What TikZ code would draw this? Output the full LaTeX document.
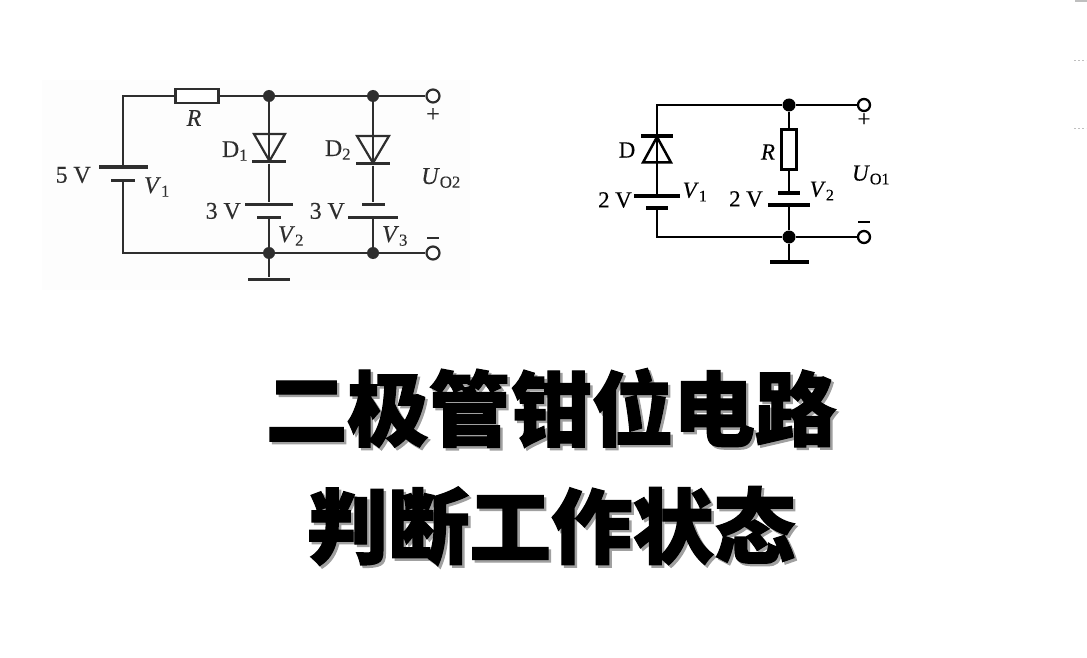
\documentclass[tikz,border=0pt]{standalone}
\usepackage{fontspec}
\setmainfont[FakeBold=0.2]{Liberation Serif}
\newfontfamily\cjk[BoldFeatures={FakeBold=1.6}]{Noto Sans CJK SC}
\definecolor{scanwire}{HTML}{2E2E2E}
\definecolor{scanfill}{HTML}{FDFDFD}
\definecolor{shadowgray}{HTML}{A0A0A0}
\newcommand{\volt}[1]{\textit{#1}}
\newcommand{\vsp}{\hspace{.24em}}
\begin{document}
\begin{tikzpicture}[x=1pt, y=-1pt,
    wire/.style={draw=scanwire, line width=2.2pt},
    wirer/.style={draw=black, line width=2.5pt},
    plate/.style={fill=scanwire, inner sep=0pt, minimum height=3pt},
    plater/.style={fill=black, inner sep=0pt, minimum height=3.2pt},
    dot/.style={circle, fill=scanwire, inner sep=0pt, minimum size=12pt},
    dotr/.style={circle, fill=black, inner sep=0pt, minimum size=13pt},
    terminal/.style={circle, draw=scanwire, fill=white, line width=2.2pt, inner sep=0pt, minimum size=13pt},
    terminalr/.style={circle, draw=black, fill=white, line width=2.3pt, inner sep=0pt, minimum size=12pt},
    lab/.style={inner sep=0pt, text=scanwire, font=\fontsize{24}{24}\selectfont},
    labr/.style={inner sep=0pt, text=black, font=\fontsize{23}{23}\selectfont},
    titletext/.style={inner sep=0pt, font=\cjk\bfseries\fontsize{81.5}{81.5}\selectfont}]
  \useasboundingbox (0,0) rectangle (1087,658);
  \fill[scanfill] (42,80) rectangle (470,290);

  % marks at the top right
  \draw[gray!50, line width=1.5pt] (1075,1) -- (1087,1);
  \draw[gray!50, line width=1pt, dash pattern=on 2pt off 2pt] (1074,61) -- (1086,61);
  \draw[gray!50, line width=1pt, dash pattern=on 2pt off 2pt] (1074,129) -- (1086,129);

  % left circuit
  \coordinate (lt) at (123,96);
  \coordinate (lb) at (123,253);
  \node[draw=scanwire, fill=white, line width=2.2pt, minimum width=43pt, minimum height=14pt, inner sep=0pt] (R2) at (197,96) {};
  \node[dot] (j1) at (269,96) {};
  \node[dot] (j2) at (373,96) {};
  \node[terminal] (tp2) at (433,96) {};
  \node[dot] (j3) at (269,253) {};
  \node[dot] (j4) at (373,253) {};
  \node[terminal] (tm2) at (433,253) {};
  \node[plate, minimum width=49pt] (v1a) at (123,167) {};
  \node[plate, minimum width=24pt] (v1b) at (123,180) {};
  \node[plate, minimum width=34pt] (d1k) at (269,162) {};
  \node[plate, minimum width=34pt] (d2k) at (373,164) {};
  \node[plate, minimum width=48pt] (v2a) at (269,204) {};
  \node[plate, minimum width=24pt] (v2b) at (269,217) {};
  \node[plate, minimum width=23pt] (v3a) at (373,204) {};
  \node[plate, minimum width=50pt] (v3b) at (373,217) {};
  \node[plate, minimum width=42pt] (gnd2) at (269,279) {};

  \draw[wire] (v1a) -- (lt) -- (R2);
  \draw[wire] (R2) -- (j1);
  \draw[wire] (j1) -- (j2);
  \draw[wire] (j2) -- (tp2);
  \draw[wire] (v1b) -- (lb) -- (j3);
  \draw[wire] (j3) -- (j4);
  \draw[wire] (j4) -- (tm2);
  \draw[wire] (j1) -- (d1k);
  \draw[wire] (d1k) -- (v2a);
  \draw[wire] (v2b) -- (j3);
  \draw[wire] (j3) -- (gnd2);
  \draw[wire] (j2) -- (d2k);
  \draw[wire] (d2k) -- (v3a);
  \draw[wire] (v3b) -- (j4);
  \draw[wire, line join=miter] (254,134) -- (285,134) -- (269.5,161) -- cycle;
  \draw[wire, line join=miter] (357,136) -- (389,136) -- (373,163) -- cycle;

  \node[lab] (r2lab) at (194,118) {\volt{R}};
  \node[lab, anchor=east] (v5) at (91,175) {5\vsp V};
  \node[lab] (v1lab) at (157,187) {\volt{V}\textsubscript{1}};
  \node[lab] (d1lab) at (235,151) {D\textsubscript{1}};
  \node[lab] (d2lab) at (338,150) {D\textsubscript{2}};
  \node[lab, anchor=east] (v3l) at (241,211) {3\vsp V};
  \node[lab, anchor=east] (v3r) at (345,211) {3\vsp V};
  \node[lab] (v2lab) at (291,236) {\volt{V}\textsubscript{2}};
  \node[lab] (v3lab) at (395,236) {\volt{V}\textsubscript{3}};
  \node[lab] (plus2) at (433,115) {+};
  \node[plate, minimum width=12pt, minimum height=1.6pt] (minus2) at (433,238) {};
  \node[lab] (uo2) at (441,178) {\volt{U}\textsubscript{O2}};

  % right circuit
  \coordinate (rt) at (657,105);
  \coordinate (rb) at (657,237);
  \node[dotr] (j5) at (789,105) {};
  \node[dotr] (j6) at (789,237) {};
  \node[terminalr] (tp1) at (864,105) {};
  \node[terminalr] (tm1) at (864,237) {};
  \node[plater, minimum width=32pt] (dk) at (657,136) {};
  \node[plater, minimum width=46pt] (w1a) at (657,196) {};
  \node[plater, minimum width=22pt] (w1b) at (657,208) {};
  \node[draw=black, fill=white, line width=2.5pt, minimum width=15pt, minimum height=40pt, inner sep=0pt] (R1) at (789,149.5) {};
  \node[plater, minimum width=22pt] (w2a) at (789,193) {};
  \node[plater, minimum width=42pt] (w2b) at (789,205) {};
  \node[plater, minimum width=39pt] (gnd1) at (789,262) {};

  \draw[wirer] (dk) -- (rt) -- (j5);
  \draw[wirer] (j5) -- (tp1);
  \draw[wirer] (dk) -- (w1a);
  \draw[wirer] (w1b) -- (rb) -- (j6);
  \draw[wirer] (j6) -- (tm1);
  \draw[wirer] (j5) -- (R1);
  \draw[wirer] (R1) -- (w2a);
  \draw[wirer] (w2b) -- (j6);
  \draw[wirer] (j6) -- (gnd1);
  \draw[wirer, line join=miter] (643,162.5) -- (671,162.5) -- (657,137) -- cycle;

  \node[labr] (dlab) at (627,150) {D};
  \node[labr] (r1lab) at (768,152) {\volt{R}};
  \node[labr, anchor=east] (v2l) at (632,200) {2\vsp V};
  \node[labr, anchor=east] (v2r) at (763,199) {2\vsp V};
  \node[labr] (w1lab) at (695,192) {\volt{V}\textsubscript{1}};
  \node[labr] (w2lab) at (822,191) {\volt{V}\textsubscript{2}};
  \node[labr] (plus1) at (864,120) {+};
  \node[plater, minimum width=12pt, minimum height=2pt] (minus1) at (864,222) {};
  \node[labr] (uo1) at (871,175) {\volt{U}\textsubscript{O1}};

  % title with its shadow
  \node[titletext, text=shadowgray] (title1s) at (553.5,410.5) {二极管钳位电路};
  \node[titletext, text=shadowgray] (title2s) at (553.5,528.5) {判断工作状态};
  \node[titletext] (title1) at (551,408) {二极管钳位电路};
  \node[titletext] (title2) at (551,526) {判断工作状态};
\end{tikzpicture}
\end{document}
